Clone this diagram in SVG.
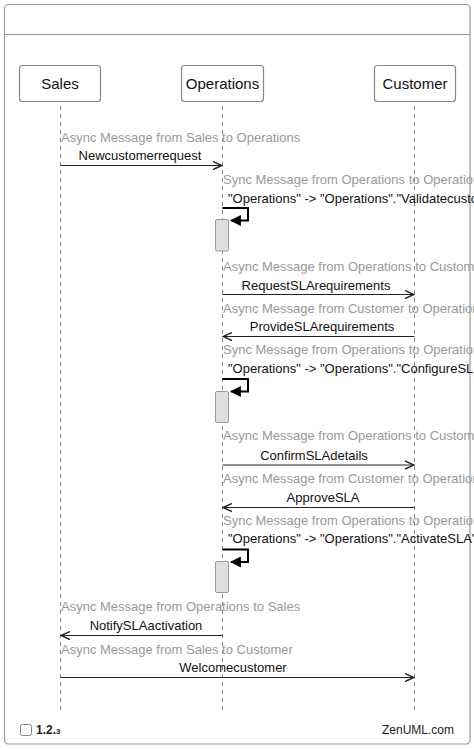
<svg xmlns="http://www.w3.org/2000/svg" width="474" height="749" viewBox="0 0 474 749">
<style>
.frame{fill:#fff;stroke:#999;stroke-width:1.2}
.part rect{fill:#fff;stroke:#888;stroke-width:1.2}
.part text{font-family:"Liberation Sans",Arial,sans-serif;font-size:15px;fill:#111;text-anchor:middle}
.life{stroke:#888;stroke-width:1;stroke-dasharray:4 4;fill:none}
.cmt{font-family:"Liberation Sans",Arial,sans-serif;font-size:13px;fill:#999}
.lbl{font-family:"Liberation Sans",Arial,sans-serif;font-size:13px;fill:#111}
.mid{text-anchor:middle}
.msg{stroke:#222;stroke-width:1.2;fill:none}
.self{stroke:#000;stroke-width:2;fill:none}
.act{fill:#ddd;stroke:#999;stroke-width:1}
.foot{font-family:"Liberation Sans",Arial,sans-serif;font-size:12px;fill:#222}
</style>
<defs>
<marker id="open" viewBox="0 0 10 10" refX="9" refY="5" markerWidth="10" markerHeight="10" markerUnits="userSpaceOnUse" orient="auto">
<path d="M0,1 L9,5 L0,9" fill="none" stroke="#222" stroke-width="1.4"/>
</marker>
<marker id="fill" viewBox="0 0 10 10" refX="9" refY="5" markerWidth="11" markerHeight="11" markerUnits="userSpaceOnUse" orient="auto">
<path d="M0,0 L10,5 L0,10 Z" fill="#000"/>
</marker>
</defs>
<rect class="frame" x="4.5" y="4.5" width="465.5" height="739.5" rx="4"/>
<line x1="4.5" y1="34.5" x2="470" y2="34.5" stroke="#999" stroke-width="1.2"/>

<g id="lifelines">
<line class="life" x1="60.5" y1="106" x2="60.5" y2="713"/>
<line class="life" x1="222.5" y1="106" x2="222.5" y2="713"/>
<line class="life" x1="414.5" y1="106" x2="414.5" y2="713"/>
</g>

<g id="Sales" class="part"><rect x="19.5" y="65.5" width="81" height="36" rx="3"/><text x="60" y="89">Sales</text></g>
<g id="Operations" class="part"><rect x="181.5" y="65.5" width="82" height="36" rx="3"/><text x="222.5" y="89">Operations</text></g>
<g id="Customer" class="part"><rect x="374.5" y="65.5" width="81" height="36" rx="3"/><text x="415" y="89">Customer</text></g>

<g id="activations">
<rect class="act" x="215.5" y="219.5" width="13" height="31.5" rx="1.5"/>
<rect class="act" x="215.5" y="391.5" width="13" height="31" rx="1.5"/>
<rect class="act" x="215.5" y="561.5" width="13" height="31" rx="1.5"/>
</g>

<g id="connectors">
<text class="cmt" x="61" y="142">Async Message from Sales to Operations</text>
<text class="lbl mid" x="140" y="160">Newcustomerrequest</text>
<line class="msg" x1="60.5" y1="165.5" x2="222" y2="165.5" marker-end="url(#open)"/>

<text class="cmt" x="223" y="184">Sync Message from Operations to Operations</text>
<text class="lbl" x="228" y="203">"Operations" -&gt; "Operations"."Validatecusto</text>
<path class="self" d="M222.5,208 H248 V220.5 H231" marker-end="url(#fill)"/>

<text class="cmt" x="223" y="271">Async Message from Operations to Customer</text>
<text class="lbl mid" x="316" y="290">RequestSLArequirements</text>
<line class="msg" x1="222.5" y1="294.5" x2="414" y2="294.5" marker-end="url(#open)"/>

<text class="cmt" x="223" y="313">Async Message from Customer to Operations</text>
<text class="lbl mid" x="322" y="331">ProvideSLArequirements</text>
<line class="msg" x1="414.5" y1="336.5" x2="223" y2="336.5" marker-end="url(#open)"/>

<text class="cmt" x="223" y="354">Sync Message from Operations to Operations</text>
<text class="lbl" x="228" y="373">"Operations" -&gt; "Operations"."ConfigureSL</text>
<path class="self" d="M222.5,379 H248 V391.5 H231" marker-end="url(#fill)"/>

<text class="cmt" x="223" y="440">Async Message from Operations to Customer</text>
<text class="lbl mid" x="314" y="460">ConfirmSLAdetails</text>
<line class="msg" x1="222.5" y1="465" x2="414" y2="465" marker-end="url(#open)"/>

<text class="cmt" x="223" y="483">Async Message from Customer to Operations</text>
<text class="lbl mid" x="323" y="502">ApproveSLA</text>
<line class="msg" x1="414.5" y1="507.5" x2="223" y2="507.5" marker-end="url(#open)"/>

<text class="cmt" x="223" y="525">Sync Message from Operations to Operations</text>
<text class="lbl" x="228" y="543">"Operations" -&gt; "Operations"."ActivateSLA"</text>
<path class="self" d="M222.5,549.5 H248 V562 H231" marker-end="url(#fill)"/>

<text class="cmt" x="61" y="611">Async Message from Operations to Sales</text>
<text class="lbl mid" x="146" y="630">NotifySLAactivation</text>
<line class="msg" x1="222.5" y1="635.5" x2="61" y2="635.5" marker-end="url(#open)"/>

<text class="cmt" x="61" y="654">Async Message from Sales to Customer</text>
<text class="lbl mid" x="233" y="672">Welcomecustomer</text>
<line class="msg" x1="60.5" y1="677.5" x2="414" y2="677.5" marker-end="url(#open)"/>
</g>

<g id="footer">
<rect x="20.5" y="724.5" width="11" height="11" rx="2" fill="#fff" stroke="#888" stroke-width="1"/>
<text class="foot" x="36" y="734" font-weight="bold">1.2.<tspan font-size="8">3</tspan></text>
<text class="foot" x="454" y="734" text-anchor="end">ZenUML.com</text>
</g>
</svg>
